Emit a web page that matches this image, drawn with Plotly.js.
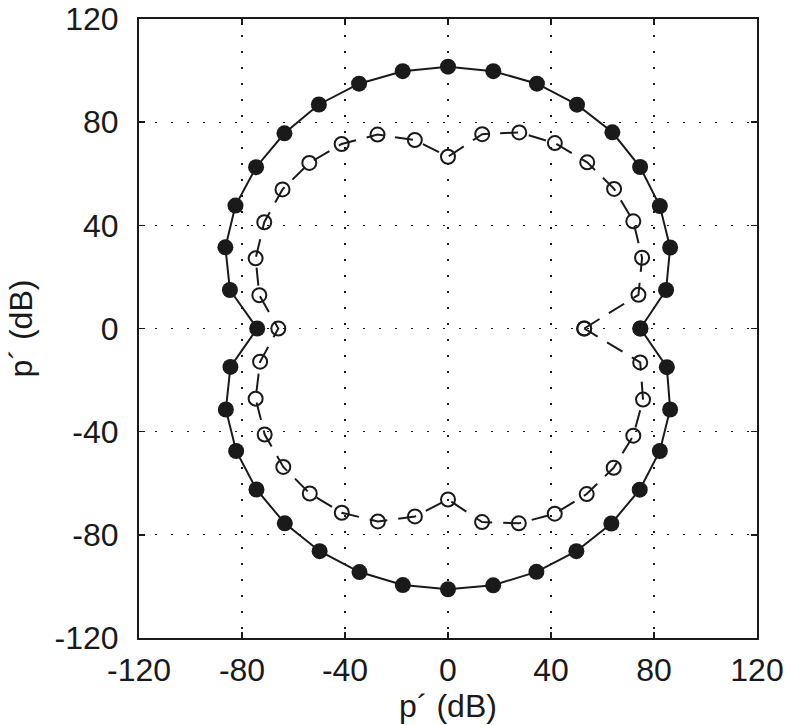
<!DOCTYPE html>
<html>
<head>
<meta charset="utf-8">
<script src="https://cdn.plot.ly/plotly-3.0.1.min.js"></script>
<style>
  html, body { margin: 0; padding: 0; background: #fff; }
  #chart { width: 793px; height: 725px; }
</style>
</head>
<body>
<div id="chart"></div>
<script>
// directions of the measured points, degrees
const angles = [0, 10, 20, 30, 40, 50, 60, 70, 80, 90, 100, 110, 120, 130, 140, 150, 160, 170,
                180, 190, 200, 210, 220, 230, 240, 250, 260, 270, 280, 290, 300, 310, 320, 330, 340, 350];

// outer curve (filled dots), dB
const outerLevel = [74.7, 86.0, 91.8, 95.0, 97.4, 99.3, 100.2, 101.0, 101.3, 101.5, 101.3, 101.0,
                    100.3, 98.8, 97.3, 95.3, 92.0, 86.0, 74.1, 85.8, 91.8, 95.0, 97.1, 98.6,
                    99.7, 100.5, 101.0, 101.1, 101.1, 100.4, 99.7, 98.7, 97.2, 95.0, 91.8, 86.3];

// inner curve (open dots), dB
const innerLevel = [52.9, 75.1, 80.2, 83.1, 84.2, 84.1, 83.0, 80.9, 76.5, 66.6, 74.2, 80.0,
                    82.6, 83.8, 83.9, 82.4, 79.5, 74.4, 65.9, 74.1, 79.5, 82.2, 83.5, 83.5,
                    82.5, 79.6, 74.0, 66.3, 76.2, 80.4, 82.9, 83.8, 84.0, 83.1, 80.6, 75.8];

// axis ticks
const tickValues = [-120, -80, -40, 0, 40, 80, 120];
const tickLabels = ['-120', '-80', '-40', '0', '40', '80', '120'];

// polar -> cartesian, closing the loop
function toXY(level) {
  const x = [], y = [];
  for (let i = 0; i <= angles.length; i++) {
    const k = i % angles.length;
    const a = angles[k] * Math.PI / 180;
    x.push(level[k] * Math.cos(a));
    y.push(level[k] * Math.sin(a));
  }
  return {x: x, y: y};
}

const outer = toXY(outerLevel);
const inner = toXY(innerLevel);

const font = {family: '"Liberation Sans", Arial, Helvetica, sans-serif', size: 32, color: '#1a1a1a'};

function axis(titleText) {
  return {
    range: [-120, 120],
    tickvals: tickValues,
    ticktext: tickLabels,
    ticks: 'inside',
    ticklen: 6,
    tickwidth: 1.5,
    tickcolor: '#1a1a1a',
    showline: true,
    linewidth: 2,
    linecolor: '#1a1a1a',
    mirror: 'ticks',
    showgrid: true,
    gridcolor: '#1a1a1a',
    gridwidth: 1.2,
    griddash: '2px,14px',
    zeroline: false,
    tickfont: font,
    title: {text: titleText, font: font},
    fixedrange: true
  };
}

const xaxis = axis('p´ (dB)');
xaxis.ticklabelstandoff = 3;
xaxis.title.standoff = 4;
const yaxis = axis('p´ (dB)');
yaxis.ticklabelstandoff = 12;
yaxis.title.standoff = 12;

const layout = {
  width: 793,
  height: 725,
  margin: {l: 139, r: 36, t: 19, b: 87},
  paper_bgcolor: '#fff',
  plot_bgcolor: '#fff',
  showlegend: false,
  xaxis: xaxis,
  yaxis: yaxis
};

Plotly.newPlot('chart', [{
  x: outer.x,
  y: outer.y,
  mode: 'lines+markers',
  line: {color: '#1a1a1a', width: 2},
  marker: {symbol: 'circle', size: 16, color: '#1a1a1a'}
}, {
  x: inner.x,
  y: inner.y,
  mode: 'lines+markers',
  line: {color: '#1a1a1a', width: 2, dash: '18px,11px'},
  marker: {symbol: 'circle-open', size: 14, color: '#1a1a1a', line: {width: 2, color: '#1a1a1a'}}
}], layout, {staticPlot: true});
</script>
</body>
</html>
